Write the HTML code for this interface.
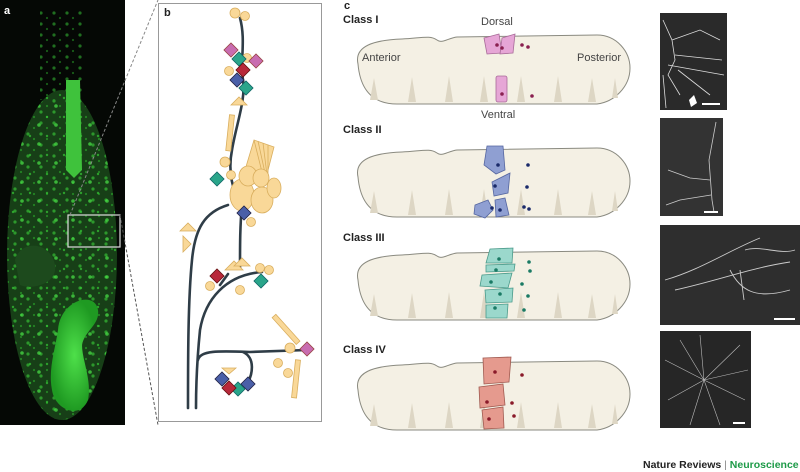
<!DOCTYPE html>
<html><head><meta charset="utf-8"><style>
html,body{margin:0;padding:0;background:#fff;}
svg{display:block}
text{font-family:"Liberation Sans",sans-serif;}
</style></head><body>
<svg width="800" height="472" viewBox="0 0 800 472" xmlns="http://www.w3.org/2000/svg">
<defs>
<radialGradient id="gut" cx="0.5" cy="0.5" r="0.5"><stop offset="0" stop-color="#4ee04a"/><stop offset="1" stop-color="#1f9a22"/></radialGradient>
<pattern id="dots" width="13" height="11" patternUnits="userSpaceOnUse"><circle cx="2" cy="2" r="1.6" fill="#3bd43a"/><circle cx="8" cy="7" r="1.1" fill="#2cb02c"/></pattern>
<pattern id="dots2" width="17" height="19" patternUnits="userSpaceOnUse"><circle cx="5" cy="11" r="1.8" fill="#4ae848"/><circle cx="13" cy="3" r="1.2" fill="#35c835"/></pattern>
<g id="larva">
<path d="M6,32 C2,14 22,8 50,7 C70,6 78,3 85,8 C90,12 96,6 105,5 L245,3 C265,3 278,20 278,36 C278,55 262,70 245,72 L45,72 C18,72 8,55 6,32 Z" fill="#f4f0e4" stroke="#8a8a80" stroke-width="1"/>
<g fill="#ddd6c4">
<path d="M18,68 l4,-22 l4,22z M56,70 l4,-25 l4,25z M93,70 l4,-26 l4,26z M128,70 l4,-26 l4,26z M165,70 l4,-26 l4,26z M202,70 l4,-26 l4,26z M236,70 l4,-24 l4,24z M260,66 l3,-20 l3,20z"/>
</g>
</g>
<g id="dm"><rect x="-5" y="-5" width="10" height="10" transform="rotate(45)" stroke-width="0.8"/></g>
</defs>

<!-- Panel a -->
<rect x="0" y="0" width="125" height="425" fill="#050805"/>
<ellipse cx="62" cy="255" rx="55" ry="165" fill="#173f17"/>
<ellipse cx="62" cy="255" rx="55" ry="165" fill="url(#dots)" opacity="0.6"/>
<ellipse cx="62" cy="255" rx="55" ry="165" fill="url(#dots2)" opacity="0.7"/>
<rect x="40" y="10" width="45" height="90" fill="url(#dots)" opacity="0.5"/>
<path d="M66,80 L80,80 L82,170 L74,178 L66,170Z" fill="#3fc23c"/>
<path d="M58,330 C60,300 95,290 98,310 C100,325 85,330 82,345 C82,360 92,380 88,400 C80,420 55,410 52,390 C48,370 55,350 58,330Z" fill="url(#gut)"/>
<path d="M15,260 C20,240 50,240 55,265 C58,285 30,290 20,285Z" fill="#1d4a1d"/>
<text x="4" y="14" font-size="11" font-weight="bold" fill="#fff">a</text>
<rect x="68" y="215" width="52" height="32" fill="none" stroke="#ddd" stroke-width="1.2"/>
<line x1="70" y1="215" x2="158" y2="0" stroke="#888" stroke-dasharray="3,2"/>
<line x1="120" y1="215" x2="158" y2="425" stroke="#555" stroke-dasharray="3,2"/>

<!-- Panel b -->
<rect x="158.5" y="3.5" width="163" height="418" fill="#fff" stroke="#999" stroke-width="1"/>
<text x="164" y="16" font-size="11" font-weight="bold" fill="#222">b</text>
<g fill="none" stroke="#2f3d47" stroke-width="2.6" stroke-linecap="round">
<path d="M240,18 C246,40 240,60 243,80 C246,100 236,125 232,150 C228,170 232,185 236,195"/>
<path d="M228,205 C205,212 195,228 192,260 C188,300 188,360 188,408"/>
<path d="M242,205 C240,225 240,245 240,268"/>
<path d="M262,272 C225,275 205,300 200,330 C197,360 196,390 196,408"/>
<path d="M198,360 C200,350 220,351 250,352 L307,350"/>
<path d="M243,352 C256,358 252,375 248,382"/>
<path d="M220,285 L228,274"/>
</g>
<g fill="#f9d898" stroke="#d9ae5e" stroke-width="0.8">
<circle cx="235" cy="13" r="5"/><circle cx="245" cy="16" r="4.5"/>
<circle cx="229" cy="71" r="4.5"/><circle cx="247" cy="58" r="4.5"/>
<path d="M231,105 l8,-8 l8,8z"/>
<rect x="-2.5" y="0" width="5" height="36" transform="translate(232,115) rotate(6)"/>
<circle cx="225" cy="162" r="5"/><circle cx="231" cy="175" r="4.5"/>
<path d="M245,170 L254,140 L274,147 L266,178Z"/>
<path d="M254,140 L262,172 M258,141 L265,173 M263,143 L267,175 M268,145 L268,176" fill="none"/>
<ellipse cx="242" cy="195" rx="12" ry="16"/>
<ellipse cx="262" cy="200" rx="11" ry="13"/>
<ellipse cx="248" cy="176" rx="9" ry="10"/>
<ellipse cx="261" cy="178" rx="8" ry="9"/>
<ellipse cx="274" cy="188" rx="7" ry="10"/>
<circle cx="251" cy="222" r="4.5"/>
<path d="M180,231 l8,-8 l8,8z"/><path d="M183,236 l0,16 l8,-8z"/>
<path d="M225,270 l9,-9 l9,9z"/><path d="M234,266 l8,-8 l8,8z"/>
<circle cx="210" cy="286" r="4.5"/><circle cx="240" cy="290" r="4.5"/>
<circle cx="260" cy="268" r="4.5"/><circle cx="269" cy="270" r="4.5"/>
<rect x="-2.5" y="0" width="5" height="36" transform="translate(274,316) rotate(-42)"/>
<circle cx="290" cy="348" r="5"/>
<circle cx="278" cy="363" r="4.5"/><circle cx="288" cy="373" r="4.5"/>
<rect x="-2.5" y="0" width="5" height="38" transform="translate(298,360) rotate(6)"/>
<path d="M222,368 l14,0 l-7,6z"/>
</g>
<g>
<use href="#dm" x="231" y="50" fill="#c86cb0" stroke="#944"/>
<use href="#dm" x="256" y="61" fill="#c86cb0" stroke="#944"/>
<use href="#dm" x="239" y="59" fill="#2aa58a" stroke="#166"/>
<use href="#dm" x="243" y="70" fill="#b8283a" stroke="#611"/>
<use href="#dm" x="237" y="80" fill="#4a5fa8" stroke="#224"/>
<use href="#dm" x="246" y="88" fill="#2aa58a" stroke="#166"/>
<use href="#dm" x="217" y="179" fill="#2aa58a" stroke="#166"/>
<use href="#dm" x="244" y="213" fill="#4a5fa8" stroke="#224"/>
<use href="#dm" x="217" y="276" fill="#b8283a" stroke="#611"/>
<use href="#dm" x="261" y="281" fill="#2aa58a" stroke="#166"/>
<use href="#dm" x="307" y="349" fill="#c86cb0" stroke="#944"/>
<use href="#dm" x="222" y="379" fill="#4a5fa8" stroke="#224"/>
<use href="#dm" x="248" y="384" fill="#4a5fa8" stroke="#224"/>
<use href="#dm" x="238" y="389" fill="#2aa58a" stroke="#166"/>
<use href="#dm" x="229" y="388" fill="#b8283a" stroke="#611"/>
</g>

<!-- Panel c -->
<g font-weight="bold" fill="#222">
<text x="344" y="9" font-size="11">c</text>
<text x="343" y="23" font-size="11">Class I</text>
<text x="343" y="133" font-size="11">Class II</text>
<text x="343" y="241" font-size="11">Class III</text>
<text x="343" y="353" font-size="11">Class IV</text>
</g>
<use href="#larva" x="352" y="32"/>
<use href="#larva" x="352" y="145"/>
<use href="#larva" x="352" y="248"/>
<use href="#larva" x="352" y="358"/>
<g font-size="11" fill="#444">
<text x="481" y="25">Dorsal</text>
<text x="362" y="61">Anterior</text>
<text x="577" y="61">Posterior</text>
<text x="481" y="118">Ventral</text>
</g>
<!-- Class I cells -->
<g fill="#e6a6d6" stroke="#a86a98" stroke-width="0.8">
<path d="M484,38 L499,34 L502,53 L487,54 Z"/><path d="M502,38 L515,34 L513,53 L500,54Z"/>
<rect x="496" y="76" width="11" height="26" rx="2"/>
</g>
<g fill="#8a2050"><circle cx="497" cy="45" r="1.8"/><circle cx="502" cy="48" r="1.8"/><circle cx="522" cy="45" r="1.8"/><circle cx="528" cy="47" r="1.8"/><circle cx="502" cy="94" r="1.8"/><circle cx="532" cy="96" r="1.8"/></g>
<!-- Class II -->
<g fill="#8f9fd2" stroke="#5566a0" stroke-width="0.8">
<path d="M487,146 L503,146 L505,170 L496,174 L484,165Z"/>
<path d="M492,182 L510,173 L508,193 L494,196Z"/>
<path d="M475,205 L488,200 L493,210 L485,218 L474,214Z"/>
<path d="M495,200 L505,198 L509,215 L496,217Z"/>
</g>
<g fill="#1a2a6a"><circle cx="498" cy="165" r="1.8"/><circle cx="528" cy="165" r="1.8"/><circle cx="495" cy="186" r="1.8"/><circle cx="527" cy="187" r="1.8"/><circle cx="492" cy="208" r="1.8"/><circle cx="500" cy="210" r="1.8"/><circle cx="524" cy="207" r="1.8"/><circle cx="529" cy="209" r="1.8"/></g>
<!-- Class III -->
<g fill="#9bd8cc" stroke="#4a9a8a" stroke-width="0.8">
<path d="M490,249 L513,248 L512,263 L486,263Z"/>
<path d="M486,265 L515,264 L514,271 L486,272Z"/>
<path d="M482,275 L512,273 L508,288 L480,286Z"/>
<path d="M485,290 L513,288 L512,302 L486,303Z"/>
<path d="M486,305 L508,304 L507,318 L486,318Z"/>
</g>
<g fill="#1a7a64"><circle cx="499" cy="259" r="1.8"/><circle cx="496" cy="270" r="1.8"/><circle cx="491" cy="282" r="1.8"/><circle cx="500" cy="294" r="1.8"/><circle cx="495" cy="308" r="1.8"/><circle cx="529" cy="262" r="1.8"/><circle cx="530" cy="271" r="1.8"/><circle cx="522" cy="284" r="1.8"/><circle cx="528" cy="296" r="1.8"/><circle cx="524" cy="310" r="1.8"/></g>
<!-- Class IV -->
<g fill="#e59a8e" stroke="#a05a50" stroke-width="0.8">
<path d="M483,358 L511,357 L509,382 L484,384Z"/>
<path d="M479,387 L503,384 L505,405 L480,408Z"/>
<path d="M482,410 L503,407 L504,428 L484,429Z"/>
</g>
<g fill="#8a1a2a"><circle cx="495" cy="372" r="1.8"/><circle cx="522" cy="375" r="1.8"/><circle cx="487" cy="402" r="1.8"/><circle cx="512" cy="403" r="1.8"/><circle cx="489" cy="419" r="1.8"/><circle cx="514" cy="416" r="1.8"/></g>

<!-- micrographs -->
<rect x="660" y="13" width="67" height="97" fill="#2a2a2a"/>
<g fill="none" stroke="#ddd" stroke-width="0.8">
<path d="M663,20 L672,40 L675,60 L668,75 L680,95 M672,40 L700,30 L720,40 M675,55 L722,60 M668,65 L724,75 M678,70 L710,95 M663,75 L666,108"/>
</g>
<path d="M689,100 l5,-5 l3,8 l-6,4z" fill="#fff"/><rect x="702" y="103" width="18" height="2" fill="#fff"/>
<rect x="660" y="118" width="63" height="98" fill="#333"/>
<g fill="none" stroke="#ccc" stroke-width="0.8"><path d="M716,122 L709,160 L712,200 L714,212 M710,180 L690,178 L668,170 M711,195 L680,200 L666,205"/></g>
<rect x="704" y="211" width="14" height="2" fill="#fff"/>
<rect x="660" y="225" width="140" height="100" fill="#2e2e2e"/>
<g fill="none" stroke="#ccc" stroke-width="0.9"><path d="M665,280 C700,270 730,250 760,238 M675,290 C720,280 750,268 790,262 M730,270 C740,290 755,300 790,290 M745,250 C760,245 780,255 795,250 M740,270 L744,300"/></g>
<rect x="774" y="318" width="21" height="2" fill="#fff"/>
<rect x="660" y="331" width="91" height="97" fill="#262626"/>
<g fill="none" stroke="#bbb" stroke-width="0.6"><path d="M704,380 L680,340 M704,380 L740,345 M704,380 L668,400 M704,380 L745,400 M704,380 L690,425 M704,380 L720,425 M704,380 L665,360 M704,380 L748,370 M704,380 L700,335"/></g>
<rect x="733" y="422" width="12" height="2" fill="#fff"/>

<text x="643" y="468" font-size="10.5" font-weight="bold" fill="#222">Nature Reviews <tspan fill="#888" font-weight="normal">|</tspan> <tspan fill="#1e9a48">Neuroscience</tspan></text>
</svg>
</body></html>
